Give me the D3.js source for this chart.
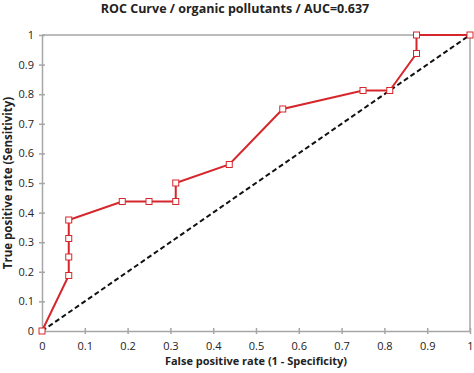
<!DOCTYPE html>
<html>
<head>
<meta charset="utf-8">
<script src="https://cdn.jsdelivr.net/npm/d3@7"></script>
<style>
  body { margin: 0; background: #fff; }
  text { font-family: "Open Sans", "Liberation Sans", sans-serif; fill: #222; }
</style>
</head>
<body>
<svg id="chart" width="474" height="373"></svg>
<script>
const fpr = [0, 0.0625, 0.0625, 0.0625, 0.0625, 0.1875, 0.25, 0.3125, 0.3125, 0.4375, 0.5625, 0.75, 0.8125, 0.875, 0.875, 1];
const tpr = [0, 0.1875, 0.25, 0.3125, 0.375, 0.4375, 0.4375, 0.4375, 0.5, 0.5625, 0.75, 0.8125, 0.8125, 0.9375, 1, 1];
const ticks = [0, 0.1, 0.2, 0.3, 0.4, 0.5, 0.6, 0.7, 0.8, 0.9, 1];
const title = "ROC Curve / organic pollutants / AUC=0.637";

const svg = d3.select("#chart");
const margin = { left: 42, right: 4, top: 35, bottom: 42 };
const width = 474, height = 373;

const x = d3.scaleLinear().domain([0, 1]).range([margin.left, width - margin.right]);
const y = d3.scaleLinear().domain([0, 1]).range([height - margin.bottom, margin.top]);

const axisColor = "#a6a6a6";

// frame (top and right)
svg.append("path")
  .attr("d", `M${x(0)},${y(1)}H${x(1)}V${y(0)}`)
  .attr("fill", "none")
  .attr("stroke", axisColor)
  .attr("stroke-width", 1.5);

const fmt = d => (d === 0 || d === 1 ? d3.format("d")(d) : d3.format(".1f")(d));

const xAxis = svg.append("g")
  .attr("transform", `translate(0,${y(0)})`)
  .call(d3.axisBottom(x).tickValues(ticks).tickFormat(fmt).tickSize(3).tickSizeOuter(0));
xAxis.selectAll(".tick line").attr("y1", -3);
xAxis.selectAll(".tick text").attr("dy", "1.2em").attr("font-size", 11).attr("fill", "#333");

const yAxis = svg.append("g")
  .attr("transform", `translate(${x(0)},0)`)
  .call(d3.axisLeft(y).tickValues(ticks).tickFormat(fmt).tickSize(3).tickSizeOuter(0));
yAxis.selectAll(".tick line").attr("x1", 3);
yAxis.selectAll(".tick text").attr("x", -8).attr("font-size", 11).attr("fill", "#333");

svg.selectAll(".domain, .tick line")
  .attr("stroke", axisColor)
  .attr("stroke-width", 1.5);
svg.selectAll(".tick text").style("font-family", "'Open Sans', sans-serif");

// diagonal reference
svg.append("line")
  .attr("x1", x(0)).attr("y1", y(0))
  .attr("x2", x(1)).attr("y2", y(1))
  .attr("stroke", "#111")
  .attr("stroke-width", 2)
  .attr("stroke-dasharray", "5,3");

const pts = fpr.map((d, i) => [d, tpr[i]]);

svg.append("path")
  .datum(pts)
  .attr("fill", "none")
  .attr("stroke", "#d7262b")
  .attr("stroke-width", 2)
  .attr("d", d3.line().x(d => x(d[0])).y(d => y(d[1])));

svg.selectAll("rect.marker")
  .data(pts)
  .join("rect")
  .classed("marker", true)
  .attr("x", d => x(d[0]) - 3)
  .attr("y", d => y(d[1]) - 3)
  .attr("width", 6)
  .attr("height", 6)
  .attr("fill", "#fff")
  .attr("stroke", "#d7262b")
  .attr("stroke-width", 1);

svg.append("text")
  .attr("x", 235)
  .attr("y", 13)
  .attr("text-anchor", "middle")
  .attr("font-size", 12.5)
  .attr("font-weight", "bold")
  .text(title);

svg.append("text")
  .attr("x", (x(0) + x(1)) / 2)
  .attr("y", 365)
  .attr("text-anchor", "middle")
  .attr("font-size", 11)
  .attr("font-weight", "bold")
  .text("False positive rate (1 - Specificity)");

svg.append("text")
  .attr("transform", `translate(12,${(y(0) + y(1)) / 2}) rotate(-90)`)
  .attr("text-anchor", "middle")
  .attr("font-size", 11.5)
  .attr("font-weight", "bold")
  .text("True positive rate (Sensitivity)");
</script>
</body>
</html>
